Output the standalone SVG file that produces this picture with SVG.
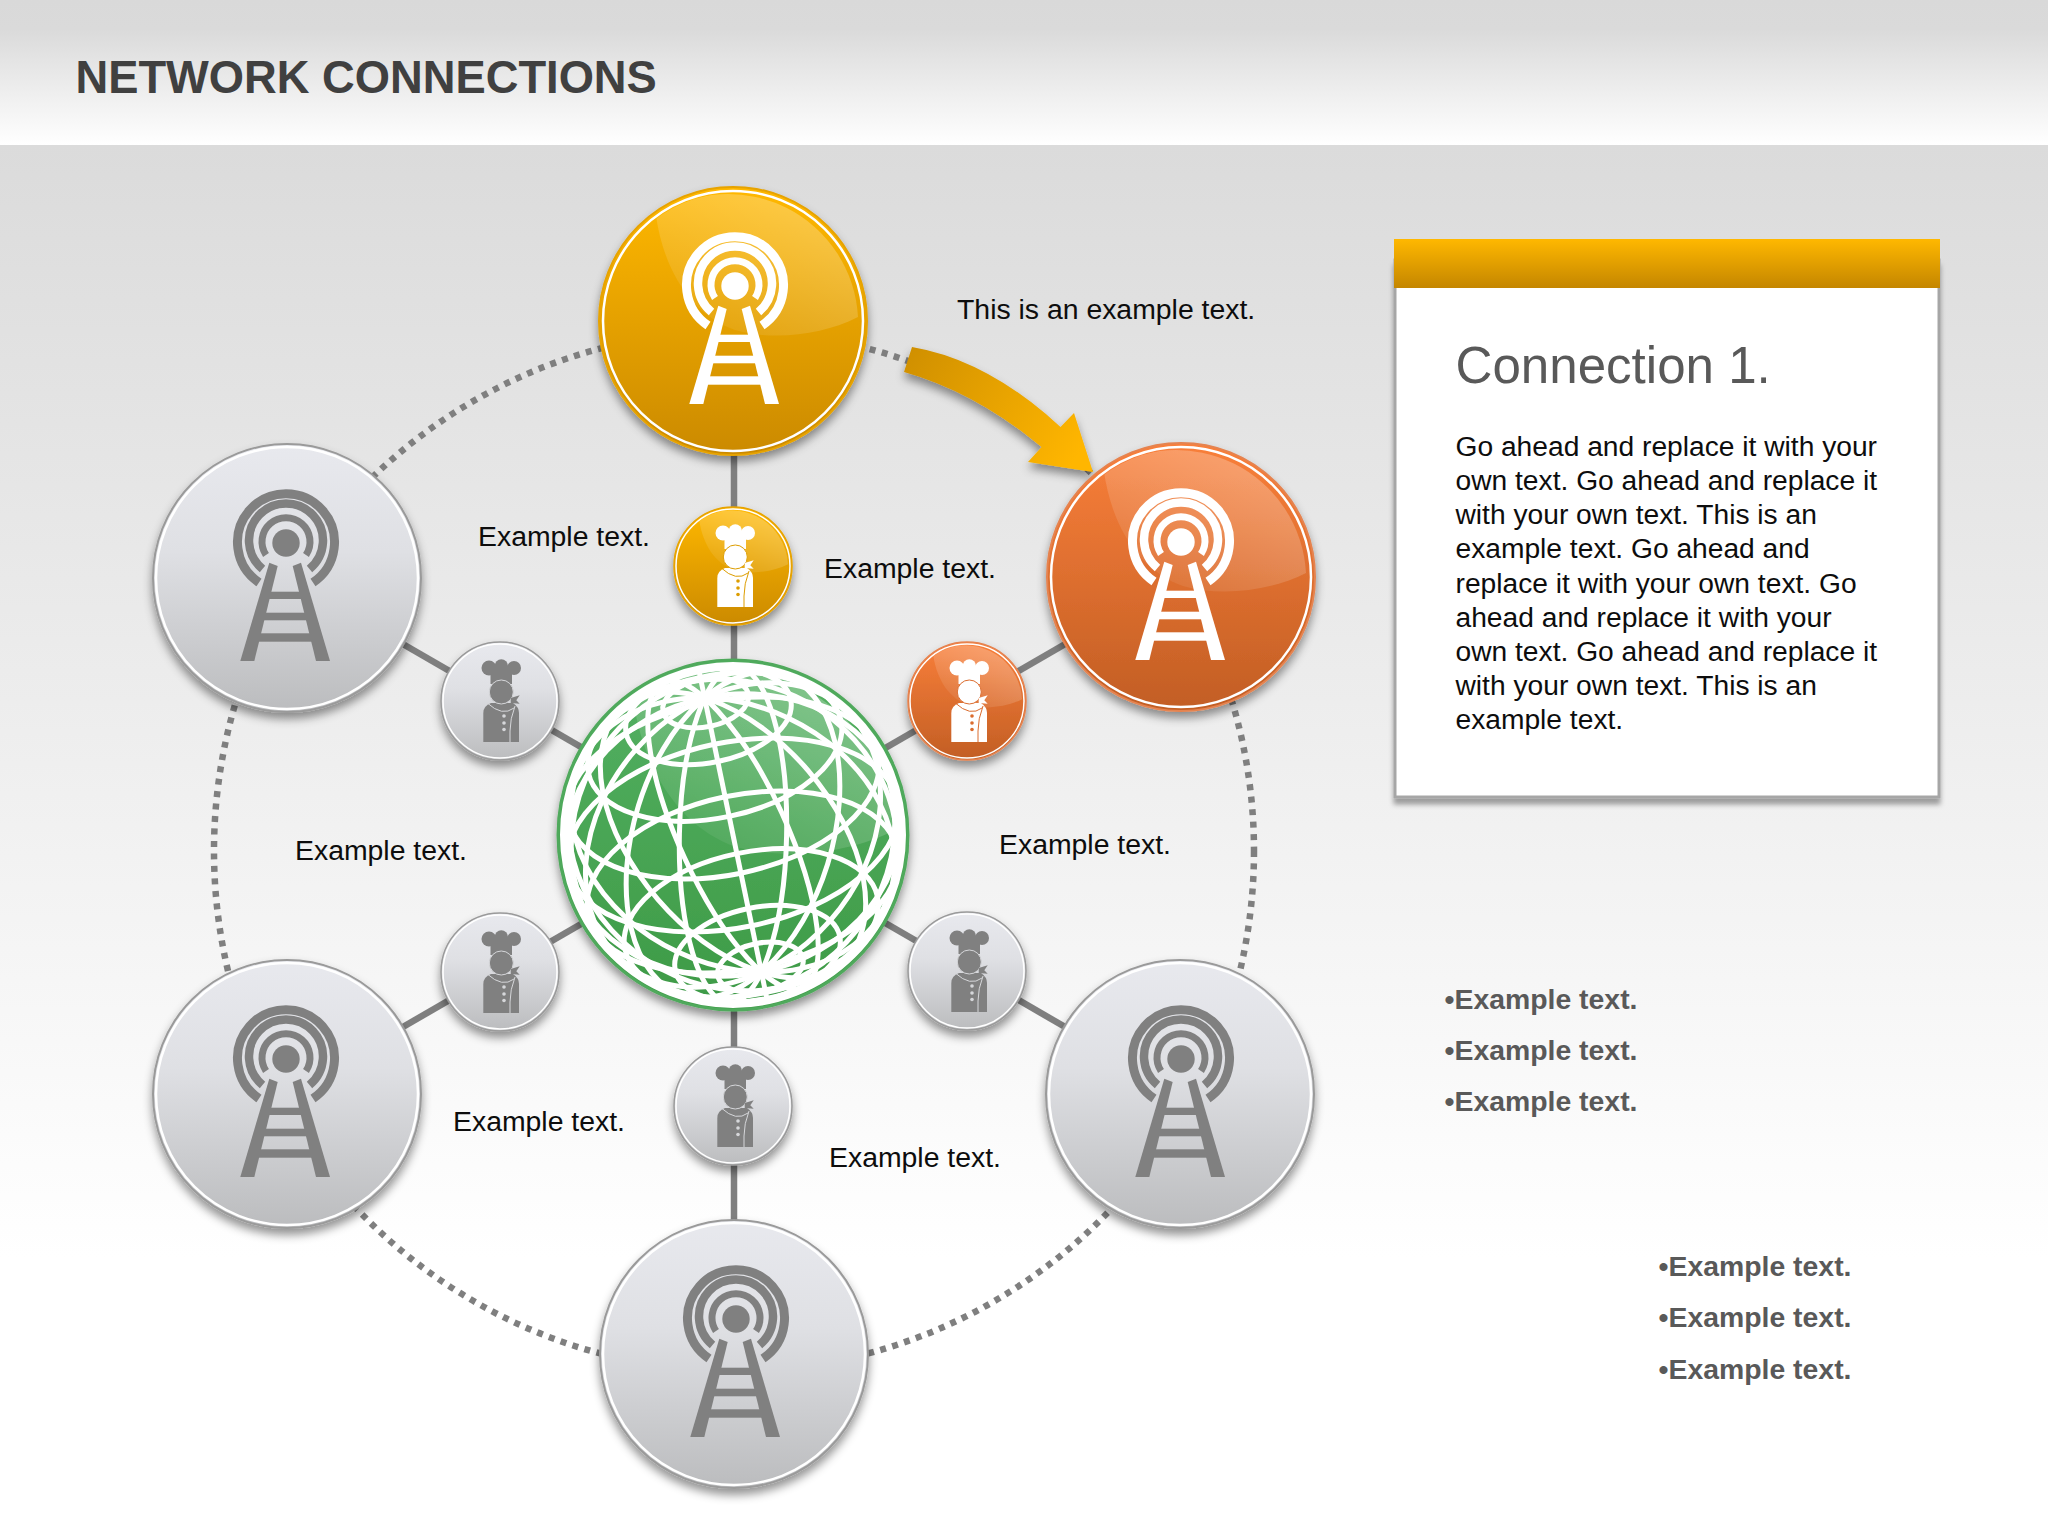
<svg xmlns="http://www.w3.org/2000/svg" width="2048" height="1536" viewBox="0 0 2048 1536">
<style>
text{font-family:"Liberation Sans",Arial,sans-serif}
.lbl{font-size:28.4px;fill:#0d0d0d}
.body{font-size:28.2px;fill:#0d0d0d}
.bul{font-size:28.4px;font-weight:bold;fill:#595959}
.conn{stroke:#7f7f7f;stroke-width:6.5;fill:none}
.gold{fill:#fff;color:#dd9d00}
.orange{fill:#fff;color:#db6c2e}
.grey{fill:#808080;color:#d6d7da}
.wire ellipse,.wire line{fill:none;stroke:#fff;stroke-width:5}
</style>
<defs>
<linearGradient id="hdr" x1="0" y1="0" x2="0" y2="1"><stop offset="0" stop-color="#d9d9d9"/><stop offset=".2" stop-color="#dadada"/><stop offset="1" stop-color="#fff"/></linearGradient>
<linearGradient id="bg" x1="0" y1="0" x2="0" y2="1"><stop offset="0" stop-color="#dbdbdb"/><stop offset=".8" stop-color="#fff"/><stop offset="1" stop-color="#fff"/></linearGradient>
<linearGradient id="gGold" x1="0" y1="0" x2="0" y2="1"><stop offset="0" stop-color="#ffb800"/><stop offset="1" stop-color="#cb8a00"/></linearGradient>
<linearGradient id="gOrange" x1="0" y1="0" x2="0" y2="1"><stop offset="0" stop-color="#f97f3a"/><stop offset="1" stop-color="#c25e24"/></linearGradient>
<linearGradient id="gGrey" x1="0" y1="0" x2="0" y2="1"><stop offset="0" stop-color="#e8e9ee"/><stop offset=".4" stop-color="#dfe0e4"/><stop offset="1" stop-color="#bbbcbe"/></linearGradient>
<linearGradient id="gGreen" x1="0" y1="0" x2="0" y2="1"><stop offset="0" stop-color="#55b163"/><stop offset="1" stop-color="#3d9a46"/></linearGradient>
<linearGradient id="gGloss" x1=".85" y1="0" x2=".15" y2=".9"><stop offset="0" stop-color="#fff" stop-opacity=".3"/><stop offset="1" stop-color="#fff" stop-opacity=".05"/></linearGradient>
<linearGradient id="gHead" x1="0" y1="0" x2="0" y2="1"><stop offset="0" stop-color="#ffb800"/><stop offset="1" stop-color="#c48600"/></linearGradient>
<linearGradient id="gArrow" gradientUnits="userSpaceOnUse" x1="905" y1="350" x2="1075" y2="460"><stop offset="0" stop-color="#cf8f00"/><stop offset="1" stop-color="#ffb600"/></linearGradient>
<filter id="sh" x="-20%" y="-20%" width="140%" height="145%"><feDropShadow dx="0" dy="6" stdDeviation="5" flood-color="#000" flood-opacity=".42"/></filter>
<filter id="shBox" x="-5%" y="-5%" width="110%" height="110%"><feDropShadow dx="0" dy="6" stdDeviation="2.500" flood-color="#000" flood-opacity=".35"/></filter>
<path id="gloss" d="M-77-105A130 130 0 0 1 125-4C90 14 40 20 2 9C-38-5-68-45-77-105Z" fill="url(#gGloss)"/>
<g id="tower">
<circle cx="-1" cy="-35" r="13.700"/>
<path d="M-28 4.500A48.500 48.500 0 1 1 26 4.500" style="fill:none;stroke-width:9;stroke:var(--fg)"/>
<path d="M-24.500-9A37 37 0 1 1 22.500-9" style="fill:none;stroke-width:8.500;stroke:var(--fg)"/>
<path d="M-21-23A24 24 0 1 1 19-23" style="fill:none;stroke-width:7;stroke:var(--fg)"/>
<path d="M-17.700-15.300L-9.300-12L-32.700 83H-46.700Z"/>
<path d="M14-15.300L5.700-12L29 83H43Z"/>
<rect x="-20" y="13.700" width="37" height="7.300"/>
<rect x="-26" y="34.700" width="49" height="7.600"/>
<rect x="-31" y="55.300" width="59" height="8.400"/>
</g>
<g id="chef">
<circle cx="-11" cy="-33" r="7.500"/><circle cx="1.300" cy="-35" r="6.700"/><circle cx="14" cy="-33" r="7"/>
<rect x="-9.500" y="-35" width="21.500" height="18"/>
<path d="M-16.700 41V12Q-16.700 5-9 2H13Q19 6 19 12V41Z"/>
<circle cx="1.300" cy="-9" r="12" stroke="currentColor" stroke-width="1"/>
<path d="M10.700-3L19.700-5.700L16.300-.7L19.700 2.700L10.700 2Z"/>
<path d="M-12.700 2Q2.300 16 14 7M15 5Q10 18 10 30V41" fill="none" stroke="currentColor" stroke-width="1"/>
<circle cx="4" cy="15" r="1.800" fill="currentColor"/><circle cx="4" cy="22" r="1.800" fill="currentColor"/><circle cx="4" cy="28.500" r="1.800" fill="currentColor"/>
</g>
<clipPath id="cBig"><circle r="128"/></clipPath>
<clipPath id="cSmall"><circle r="56"/></clipPath>
<clipPath id="cGlobe"><circle r="170"/></clipPath>
</defs>

<rect id="background" x="0" y="145" width="2048" height="1391" fill="url(#bg)"/>
<rect id="header" x="0" y="0" width="2048" height="145" fill="url(#hdr)"/>
<text x="75.500" y="93" font-weight="bold" fill="#404040" style="font-size:45.300px">NETWORK CONNECTIONS</text>

<g id="connectors">
<circle class="conn" cx="734" cy="851" r="520" stroke-dasharray="6 6.500"/>
<line class="conn" x1="734" y1="321" x2="734" y2="1354"/>
<line class="conn" x1="287" y1="577" x2="1181" y2="1094"/>
<line class="conn" x1="1181" y1="577" x2="287" y2="1094"/>
<path id="arrow" d="M912 347Q988 360 1060.500 427L1074 413L1093 472L1028 462L1041.600 447Q975 392 904 372Z" fill="url(#gArrow)" filter="url(#sh)"/>
</g>

<g id="globe" transform="translate(733 835)">
<circle r="175" fill="url(#gGreen)" stroke="#4fa95b" stroke-width="3" filter="url(#sh)"/>
<g clip-path="url(#cGlobe)"><use href="#gloss" transform="scale(1.3)"/></g>
<circle r="169" fill="none" stroke="#fff" stroke-width="8"/>
<g class="wire" transform="rotate(-11.700)">
<line x1="0" y1="-168" x2="0" y2="168"/>
<ellipse rx="168" ry="53.600" transform="rotate(102.900)"/>
<ellipse rx="168" ry="99" transform="rotate(118.900)"/>
<ellipse rx="168" ry="129.400" transform="rotate(143.100)"/>
<ellipse rx="168" ry="140"/>
<ellipse rx="168" ry="129.400" transform="rotate(36.900)"/>
<ellipse rx="168" ry="99" transform="rotate(61.100)"/>
<ellipse rx="168" ry="53.600" transform="rotate(77.100)"/>
<ellipse rx="168" ry="156" transform="rotate(-35)"/>
<ellipse rx="168" ry="152" transform="rotate(40)"/>
<ellipse rx="168" ry="92.700"/>
<ellipse cy="-48" rx="158" ry="87"/><ellipse cy="48" rx="158" ry="87"/>
<ellipse cy="-90" rx="129" ry="71"/><ellipse cy="90" rx="129" ry="71"/>
<ellipse cy="-121" rx="84" ry="46"/><ellipse cy="121" rx="84" ry="46"/>
<ellipse cy="-135" rx="43.500" ry="24"/><ellipse cy="135" rx="43.500" ry="24"/>
</g>
</g>

<g id="node-top" class="gold" style="--fg:#fff" transform="translate(733 321)">
<circle r="134" fill="url(#gGold)" stroke="#e7a300" stroke-width="2" filter="url(#sh)"/>
<g clip-path="url(#cBig)"><use href="#gloss"/></g>
<circle r="130" fill="none" stroke="#fff" stroke-width="2.500"/>
<use href="#tower" transform="translate(3 0)"/>
</g>
<g id="node-right" class="orange" style="--fg:#fff" transform="translate(1181 577)">
<circle r="134" fill="url(#gOrange)" stroke="#e58350" stroke-width="2" filter="url(#sh)"/>
<g clip-path="url(#cBig)"><use href="#gloss"/></g>
<circle r="130" fill="none" stroke="#fff" stroke-width="2.500"/>
<use href="#tower" transform="translate(1 0)"/>
</g>
<g id="node-left" class="grey" style="--fg:#808080" transform="translate(287 578)">
<circle r="134" fill="url(#gGrey)" stroke="#9a9a9a" stroke-width="2" filter="url(#sh)"/>
<circle r="131" fill="none" stroke="#fff" stroke-width="2.500"/>
<use href="#tower"/>
</g>
<g id="node-lower-left" class="grey" style="--fg:#808080" transform="translate(287 1094)">
<circle r="134" fill="url(#gGrey)" stroke="#9a9a9a" stroke-width="2" filter="url(#sh)"/>
<circle r="131" fill="none" stroke="#fff" stroke-width="2.500"/>
<use href="#tower"/>
</g>
<g id="node-lower-right" class="grey" style="--fg:#808080" transform="translate(1180 1094)">
<circle r="134" fill="url(#gGrey)" stroke="#9a9a9a" stroke-width="2" filter="url(#sh)"/>
<circle r="131" fill="none" stroke="#fff" stroke-width="2.500"/>
<use href="#tower" transform="translate(2 0)"/>
</g>
<g id="node-bottom" class="grey" style="--fg:#808080" transform="translate(734 1354)">
<circle r="134" fill="url(#gGrey)" stroke="#9a9a9a" stroke-width="2" filter="url(#sh)"/>
<circle r="131" fill="none" stroke="#fff" stroke-width="2.500"/>
<use href="#tower" transform="translate(3 0)"/>
</g>

<g id="chef-top" class="gold" transform="translate(733 566)">
<circle r="59" fill="url(#gGold)" stroke="#e7a300" stroke-width="1.500" filter="url(#sh)"/>
<g clip-path="url(#cSmall)"><use href="#gloss" transform="scale(.44)"/></g>
<circle r="57" fill="none" stroke="#fff" stroke-width="1.500"/>
<use href="#chef" transform="translate(1 0)"/>
</g>
<g id="chef-right" class="orange" transform="translate(967 701)">
<circle r="59" fill="url(#gOrange)" stroke="#e58350" stroke-width="1.500" filter="url(#sh)"/>
<g clip-path="url(#cSmall)"><use href="#gloss" transform="scale(.44)"/></g>
<circle r="57" fill="none" stroke="#fff" stroke-width="1.500"/>
<use href="#chef" transform="translate(1 0)"/>
</g>
<g id="chef-left" class="grey" transform="translate(500 701)">
<circle r="59" fill="url(#gGrey)" stroke="#9a9a9a" stroke-width="1.500" filter="url(#sh)"/>
<circle r="57" fill="none" stroke="#fff" stroke-width="1.500"/>
<use href="#chef"/>
</g>
<g id="chef-lower-left" class="grey" transform="translate(500 972)">
<circle r="59" fill="url(#gGrey)" stroke="#9a9a9a" stroke-width="1.500" filter="url(#sh)"/>
<circle r="57" fill="none" stroke="#fff" stroke-width="1.500"/>
<use href="#chef"/>
</g>
<g id="chef-lower-right" class="grey" transform="translate(967 971)">
<circle r="59" fill="url(#gGrey)" stroke="#9a9a9a" stroke-width="1.500" filter="url(#sh)"/>
<circle r="57" fill="none" stroke="#fff" stroke-width="1.500"/>
<use href="#chef" transform="translate(1 0)"/>
</g>
<g id="chef-bottom" class="grey" transform="translate(733 1106)">
<circle r="59" fill="url(#gGrey)" stroke="#9a9a9a" stroke-width="1.500" filter="url(#sh)"/>
<circle r="57" fill="none" stroke="#fff" stroke-width="1.500"/>
<use href="#chef" transform="translate(1 0)"/>
</g>

<g id="labels">
<text class="lbl" x="957" y="319">This is an example text.</text>
<text class="lbl" x="478" y="546">Example text.</text>
<text class="lbl" x="824" y="578">Example text.</text>
<text class="lbl" x="295" y="860">Example text.</text>
<text class="lbl" x="999" y="854">Example text.</text>
<text class="lbl" x="453" y="1131">Example text.</text>
<text class="lbl" x="829" y="1167">Example text.</text>
</g>

<g id="panel">
<rect x="1395" y="260" width="544" height="537" fill="#fff" stroke="#a6a6a6" stroke-width="3" filter="url(#shBox)"/>
<rect x="1394" y="239" width="546" height="49" fill="url(#gHead)"/>
<text x="1455.500" y="383" font-size="51.100" fill="#595959">Connection 1.</text>
<text class="body" x="1455.500" y="456">Go ahead and replace it with your</text>
<text class="body" x="1455.500" y="490">own text. Go ahead and replace it</text>
<text class="body" x="1455.500" y="524">with your own text. This is an</text>
<text class="body" x="1455.500" y="558">example text. Go ahead and</text>
<text class="body" x="1455.500" y="592.500">replace it with your own text. Go</text>
<text class="body" x="1455.500" y="626.500">ahead and replace it with your</text>
<text class="body" x="1455.500" y="660.500">own text. Go ahead and replace it</text>
<text class="body" x="1455.500" y="695">with your own text. This is an</text>
<text class="body" x="1455.500" y="729">example text.</text>
</g>

<g id="bullets">
<text class="bul" x="1444.500" y="1009">•Example text.</text>
<text class="bul" x="1444.500" y="1060">•Example text.</text>
<text class="bul" x="1444.500" y="1111">•Example text.</text>
<text class="bul" x="1658.500" y="1276">•Example text.</text>
<text class="bul" x="1658.500" y="1327">•Example text.</text>
<text class="bul" x="1658.500" y="1379">•Example text.</text>
</g>
</svg>
